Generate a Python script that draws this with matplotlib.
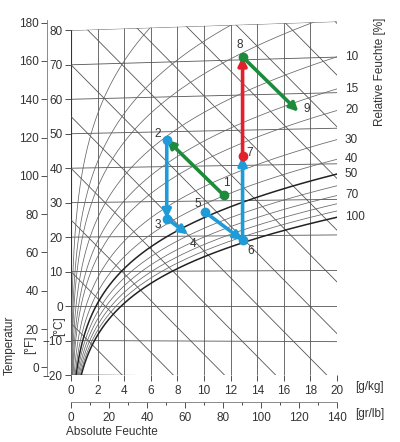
import numpy as np
import matplotlib
matplotlib.use("Agg")
import matplotlib.pyplot as plt
from matplotlib.patches import Polygon

plt.rcParams['font.family'] = ['Liberation Sans', 'DejaVu Sans']

rh_levels = [2, 4, 6, 10, 15, 20, 30, 40, 50, 60, 70, 80, 90, 100]
rh_labels = [10, 15, 20, 30, 40, 50, 70, 100]
bold_rh = [50, 100]
pt_names = ['1', '2', '3', '4', '5', '6', '7', '8', '9']
pt_x = [11.5, 7.2, 7.2, 8.8, 10.1, 12.9, 12.9, 12.9, 17.1]
pt_y = [32.1, 48.3, 25.4, 20.8, 27.2, 19.1, 43.4, 72.3, 56.4]
arrows = [(0, 1, 'green'), (1, 2, 'blue'), (2, 3, 'blue'), (4, 5, 'blue'),
          (5, 6, 'blue'), (6, 7, 'red'), (7, 8, 'green')]
dots = [(0, 'green'), (1, 'blue'), (2, 'blue'), (4, 'blue'), (5, 'blue'), (6, 'red'), (7, 'green')]
cols = {'blue': '#1f9bd7', 'green': '#1e8b3c', 'red': '#e3202b'}
x_ticks = list(range(0, 21, 2))
gr_ticks = list(range(0, 141, 20))
c_ticks = list(range(-20, 81, 10))
f_ticks = list(range(-20, 181, 20))

P = 101.325
def ps(T):
    return 0.61094 * np.exp(17.625 * T / (T + 243.04))
def disp(T, x):
    return T * (1 + 0.0016 * x)

fs = 8.5
fig = plt.figure(figsize=(4, 4.42), dpi=100)
ax = fig.add_axes([71/400, 1-375/442, 266/400, 355/442])
ax.set_xlim(0, 20)
ax.set_ylim(-20, 83)
for s in ax.spines.values():
    s.set_visible(False)

gc = '#555555'
xs = np.linspace(0, 20, 50)
clip = Polygon(list(zip(xs, disp(80, xs))) + [(20, -20), (0, -20)], closed=True,
               transform=ax.transData, fill=False, edgecolor='none')
ax.add_patch(clip)

def L(x, y, **kw):
    ln, = ax.plot(x, y, **kw)
    ln.set_clip_path(clip)
    return ln

for xv in x_ticks[1:]:
    L([xv, xv], [-20, 90], color=gc, lw=0.6)
for T in c_ticks:
    L(xs, disp(T, xs), color=gc, lw=0.6 if T > -20 else 0.8)
L([0, 0], [-20, 80], color='#333', lw=0.8)
for c in range(-5, 161, 15):
    xx = np.array([0, 20.0])
    L(xx, c - 3.9 * xx, color=gc, lw=0.6)
Ts = np.linspace(-20, 90, 600)
for r in rh_levels:
    p = r / 100 * ps(Ts)
    x = 622 * p / (P - p)
    m = x < 21
    L(x[m], disp(Ts[m], x[m]), color='#222' if r in bold_rh else '#666',
      lw=1.1 if r in bold_rh else 0.55)
for r in rh_labels:
    Tt = np.linspace(-20, 90, 5000)
    p = r / 100 * ps(Tt)
    x = 622 * p / (P - p)
    T20 = np.interp(20, x, Tt)
    ax.text(20.6, disp(T20, 20), str(r), fontsize=fs, va='center', ha='left', color='#333')

for a, b, c in arrows:
    ax.annotate('', xy=(pt_x[b], pt_y[b]), xytext=(pt_x[a], pt_y[a]),
                arrowprops=dict(arrowstyle='-|>,head_length=0.5,head_width=0.25',
                                color=cols[c], lw=2.6, shrinkA=0, shrinkB=0))
for i, c in dots:
    ax.plot(pt_x[i], pt_y[i], 'o', color=cols[c], ms=6, zorder=5)
offs = {'1': (0.2, 3.5), '2': (-0.7, 1.5), '3': (-0.7, -2), '4': (0.4, -2.8),
        '5': (-0.6, 2.5), '6': (0.6, -3), '7': (0.5, 1), '8': (-0.2, 3.5), '9': (0.6, 0.8)}
for n, x, y in zip(pt_names, pt_x, pt_y):
    dx, dy = offs[n]
    ax.text(x + dx, y + dy, n, fontsize=fs, ha='center', va='center', color='#333')

ax.set_yticks(c_ticks)
ax.set_xticks(x_ticks)
ax.tick_params(labelsize=fs, colors='#333', length=4, width=0.6)
ax.tick_params(axis='y', pad=2)
sec = ax.secondary_yaxis(-0.09, functions=(lambda c: c*9/5+32, lambda f: (f-32)*5/9))
sec.set_yticks(f_ticks)
sec.tick_params(labelsize=fs, colors='#333', length=4, width=0.6, pad=2)
sec.spines['left'].set_color('#777'); sec.spines['left'].set_linewidth(0.6)
secx = ax.secondary_xaxis(-0.076, functions=(lambda x: x*7, lambda g: g/7))
secx.set_xticks(gr_ticks)
secx.set_xticks(list(range(0, 141, 10)), minor=True)
secx.tick_params(labelsize=fs, colors='#333', length=4, width=0.6)
secx.tick_params(which='minor', length=2.5, width=0.5)
secx.spines['bottom'].set_color('#777'); secx.spines['bottom'].set_linewidth(0.6)

fig.text(10/400, 1-345/442, 'Temperatur', rotation=90, fontsize=fs, ha='center', va='center', color='#333')
fig.text(30/400, 1-345/442, '[°F]', rotation=90, fontsize=fs, ha='center', va='center', color='#333')
fig.text(59/400, 1-326/442, '[°C]', rotation=90, fontsize=fs, ha='center', va='center', color='#333')
fig.text(355/400, 1-387/442, '[g/kg]', fontsize=fs, ha='left', va='center', color='#333')
fig.text(355/400, 1-414/442, '[gr/lb]', fontsize=fs, ha='left', va='center', color='#333')
fig.text(66/400, 1-432/442, 'Absolute Feuchte', fontsize=fs, ha='left', va='center', color='#333')
fig.text(380/400, 1-72/442, 'Relative Feuchte [%]', rotation=90, fontsize=fs, ha='center', va='center', color='#333')

fig.savefig('out.png', dpi=100)
